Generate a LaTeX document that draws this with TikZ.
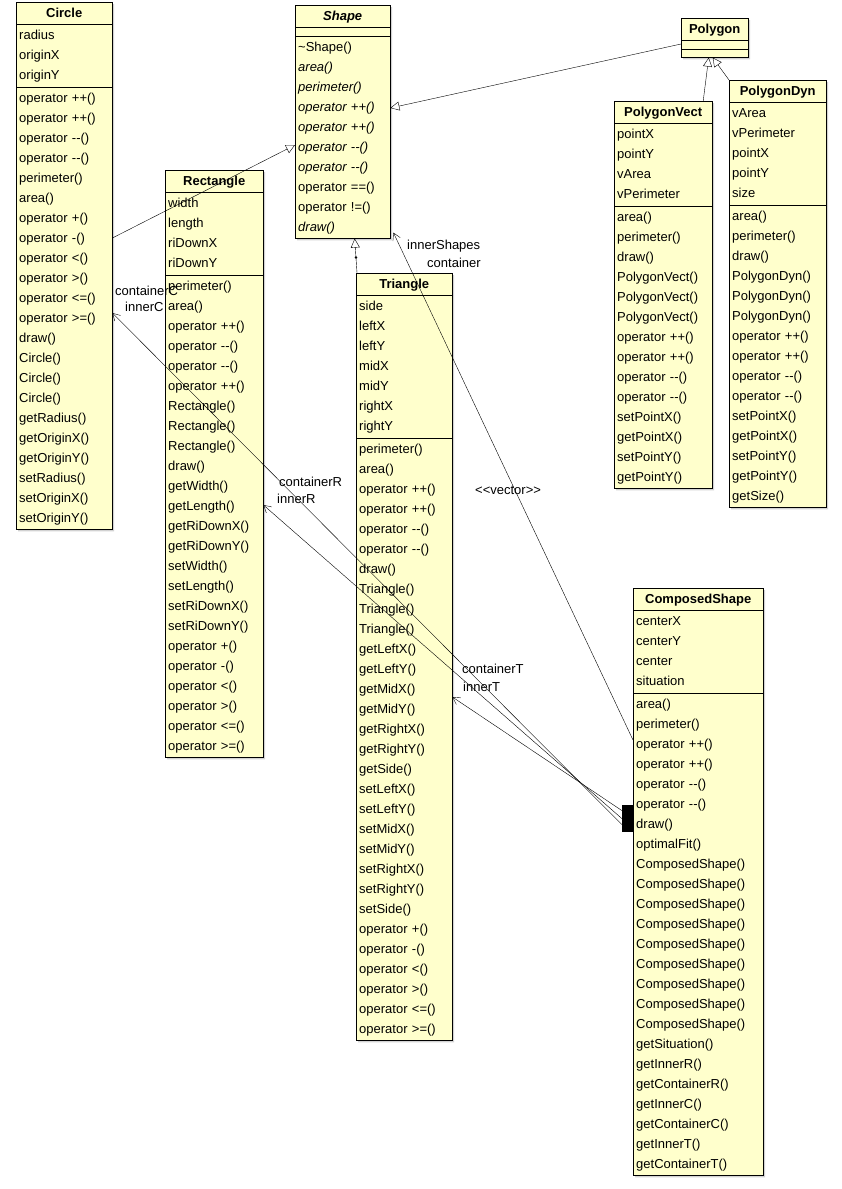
\documentclass[tikz,border=0pt]{standalone}
\usepackage{fontspec}
\setmainfont{Liberation Sans}
\usetikzlibrary{shapes.multipart,shadows,arrows.meta}
\newcommand{\rw}{\strut}
\newcommand{\mm}{\mbox{-}\mbox{-}}
\newcommand{\ctitle}[1]{\makebox[\linewidth]{\rw\textbf{#1}}}
\definecolor{classfill}{HTML}{FFFFCC}

\begin{document}
\begin{tikzpicture}[x=1pt,y=-1pt,thin,
    class/.style={rectangle split,rectangle split parts=3,draw,fill=classfill,
      anchor=north west,align=left,inner xsep=3pt,inner ysep=1pt,
      font=\fontsize{13}{20}\selectfont,
      drop shadow={shadow xshift=2pt,shadow yshift=-2pt,fill=gray!70}},
    label text/.style={anchor=west,inner sep=0pt,font=\fontsize{13}{15}\selectfont},
    inherit/.style={-{Triangle[open,length=9pt,width=9pt]}},
    assoc/.style={-{Straight Barb[length=7pt,width=8pt]}}]

  \useasboundingbox (0,0) rectangle (841,1189);

  \node[class,text width=90pt] (circle) at (16,2) {\ctitle{Circle}
    \nodepart{two}\rw radius\\\rw originX\\\rw originY
    \nodepart{three}\rw operator ++()\\\rw operator ++()\\\rw operator \mm()\\\rw operator \mm()\\
    \rw perimeter()\\\rw area()\\\rw operator +()\\\rw operator -()\\\rw operator <()\\\rw operator >()\\
    \rw operator <=()\\\rw operator >=()\\\rw draw()\\\rw Circle()\\\rw Circle()\\\rw Circle()\\
    \rw getRadius()\\\rw getOriginX()\\\rw getOriginY()\\\rw setRadius()\\\rw setOriginX()\\\rw setOriginY()};

  \node[class,text width=89pt] (shape) at (295,5) {\ctitle{\itshape Shape}
    \nodepart{two}\rule{0pt}{6pt}
    \nodepart{three}\rw\textasciitilde Shape()\\\rw\textit{area()}\\\rw\textit{perimeter()}\\
    \rw\textit{operator ++()}\\\rw\textit{operator ++()}\\\rw\textit{operator \mm()}\\\rw\textit{operator \mm()}\\
    \rw operator ==()\\\rw operator !=()\\\rw\textit{draw()}};

  \node[class,text width=61pt] (polygon) at (681,18) {\ctitle{Polygon}
    \nodepart{two}\rule{0pt}{6pt}\nodepart{three}\rule{0pt}{6pt}};

  \node[class,text width=92pt] (polyvect) at (614,101) {\ctitle{PolygonVect}
    \nodepart{two}\rw pointX\\\rw pointY\\\rw vArea\\\rw vPerimeter
    \nodepart{three}\rw area()\\\rw perimeter()\\\rw draw()\\\rw PolygonVect()\\\rw PolygonVect()\\\rw PolygonVect()\\
    \rw operator ++()\\\rw operator ++()\\\rw operator \mm()\\\rw operator \mm()\\
    \rw setPointX()\\\rw getPointX()\\\rw setPointY()\\\rw getPointY()};

  \node[class,text width=91pt] (polydyn) at (729,80) {\ctitle{PolygonDyn}
    \nodepart{two}\rw vArea\\\rw vPerimeter\\\rw pointX\\\rw pointY\\\rw size
    \nodepart{three}\rw area()\\\rw perimeter()\\\rw draw()\\\rw PolygonDyn()\\\rw PolygonDyn()\\\rw PolygonDyn()\\
    \rw operator ++()\\\rw operator ++()\\\rw operator \mm()\\\rw operator \mm()\\
    \rw setPointX()\\\rw getPointX()\\\rw setPointY()\\\rw getPointY()\\\rw getSize()};

  \node[class,text width=92pt] (rectangle) at (165,170) {\ctitle{Rectangle}
    \nodepart{two}\rw width\\\rw length\\\rw riDownX\\\rw riDownY
    \nodepart{three}\rw perimeter()\\\rw area()\\\rw operator ++()\\\rw operator \mm()\\\rw operator \mm()\\\rw operator ++()\\
    \rw Rectangle()\\\rw Rectangle()\\\rw Rectangle()\\\rw draw()\\\rw getWidth()\\\rw getLength()\\
    \rw getRiDownX()\\\rw getRiDownY()\\\rw setWidth()\\\rw setLength()\\\rw setRiDownX()\\\rw setRiDownY()\\
    \rw operator +()\\\rw operator -()\\\rw operator <()\\\rw operator >()\\\rw operator <=()\\\rw operator >=()};

  \node[class,text width=90pt] (triangle) at (356,273) {\ctitle{Triangle}
    \nodepart{two}\rw side\\\rw leftX\\\rw leftY\\\rw midX\\\rw midY\\\rw rightX\\\rw rightY
    \nodepart{three}\rw perimeter()\\\rw area()\\\rw operator ++()\\\rw operator ++()\\\rw operator \mm()\\\rw operator \mm()\\
    \rw draw()\\\rw Triangle()\\\rw Triangle()\\\rw Triangle()\\
    \rw getLeftX()\\\rw getLeftY()\\\rw getMidX()\\\rw getMidY()\\\rw getRightX()\\\rw getRightY()\\\rw getSide()\\
    \rw setLeftX()\\\rw setLeftY()\\\rw setMidX()\\\rw setMidY()\\\rw setRightX()\\\rw setRightY()\\\rw setSide()\\
    \rw operator +()\\\rw operator -()\\\rw operator <()\\\rw operator >()\\\rw operator <=()\\\rw operator >=()};

  \node[class,text width=124pt] (composed) at (633,588) {\ctitle{ComposedShape}
    \nodepart{two}\rw centerX\\\rw centerY\\\rw center\\\rw situation
    \nodepart{three}\rw area()\\\rw perimeter()\\\rw operator ++()\\\rw operator ++()\\\rw operator \mm()\\\rw operator \mm()\\
    \rw draw()\\\rw optimalFit()\\\rw ComposedShape()\\\rw ComposedShape()\\\rw ComposedShape()\\
    \rw ComposedShape()\\\rw ComposedShape()\\\rw ComposedShape()\\\rw ComposedShape()\\\rw ComposedShape()\\
    \rw ComposedShape()\\\rw getSituation()\\\rw getInnerR()\\\rw getContainerR()\\\rw getInnerC()\\
    \rw getContainerC()\\\rw getInnerT()\\\rw getContainerT()};

  % composition end
  \node[fill=black,minimum width=11pt,minimum height=27pt,inner sep=0pt] (comp) at (627.5,818.5) {};

  % inheritance
  \draw[inherit] ([yshift=-236pt]circle.north east) -- ([yshift=-140pt]shape.north west);
  \draw[inherit] ([xshift=1pt]triangle.north west)
    -- node[pos=0.45,circle,fill,inner sep=1pt]{} ([xshift=12pt]shape.south);
  \draw[inherit] ([yshift=-26pt]polygon.north west) -- ([yshift=-103pt]shape.north east);
  \draw[inherit] ([xshift=40pt]polyvect.north) -- ([xshift=-6pt]polygon.south);
  \draw[inherit] (polydyn.north west) -- ([xshift=-2pt]polygon.south);

  % associations
  \draw[assoc] ([yshift=-152pt]composed.north west) -- ([xshift=3pt,yshift=6pt]shape.south east);
  \node[label text] (lshapes) at (407,246) {innerShapes};
  \node[label text] (lcont) at (427,263) {container};
  \node[label text] (lvec) at (475,490) {\mbox{<}\mbox{<}vector\mbox{>}\mbox{>}};

  \draw[assoc] ([yshift=-6pt]comp.west) -- ([yshift=-311pt]circle.north east);
  \draw[assoc] (comp.west) -- ([yshift=-335pt]rectangle.north east);
  \draw[assoc] ([yshift=8pt]comp.west) -- ([yshift=-424pt]triangle.north east);
  \node[label text] (lcc) at (115,291) {containerC};
  \node[label text] (lic) at (125,307) {innerC};
  \node[label text] (lcr) at (279,482) {containerR};
  \node[label text] (lir) at (277,499) {innerR};
  \node[label text] (lct) at (462,669) {containerT};
  \node[label text] (lit) at (463,687) {innerT};
\end{tikzpicture}
\end{document}
